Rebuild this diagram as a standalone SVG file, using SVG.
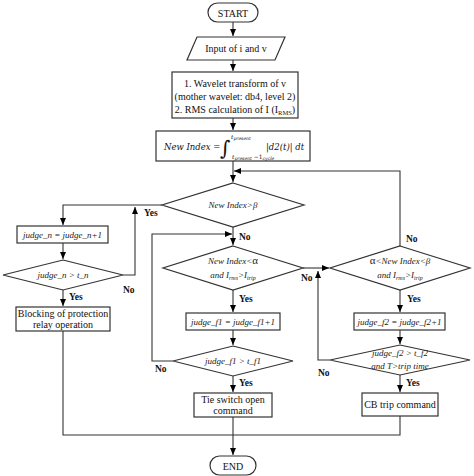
<svg xmlns="http://www.w3.org/2000/svg" width="474" height="476" viewBox="0 0 474 476">
<defs>
<marker id="ah" markerWidth="8" markerHeight="8" refX="7" refY="4" orient="auto" markerUnits="userSpaceOnUse">
<path d="M0,1 L7,4 L0,7 Z" fill="#000"/>
</marker>
<style>
.s{fill:#fff;stroke:#333;stroke-width:1.2}
.c{fill:none;stroke:#333;stroke-width:1.1}
.t{font-family:"Liberation Serif",serif;font-size:10px;fill:#111;text-anchor:middle}
.i{font-family:"Liberation Serif",serif;font-size:9px;font-style:italic;fill:#222;text-anchor:middle}
.l{font-family:"Liberation Serif",serif;font-size:9.5px;font-weight:bold;fill:#111}
.m{font-family:"DejaVu Serif","Liberation Serif",serif;font-style:italic;fill:#111}
</style>
</defs>
<rect width="474" height="476" fill="#fff"/>
<g id="connectors">
<path class="c" d="M233,22 V36" marker-end="url(#ah)"/>
<path class="c" d="M233,60 V71" marker-end="url(#ah)"/>
<path class="c" d="M233,118 V130" marker-end="url(#ah)"/>
<path class="c" d="M233,161 V182" marker-end="url(#ah)"/>
<path class="c" d="M400,246 V171 H234" marker-end="url(#ah)"/>
<path class="c" d="M162,205 H63 V225" marker-end="url(#ah)"/>
<path class="c" d="M233,227 V245" marker-end="url(#ah)"/>
<path class="c" d="M63,243 V259" marker-end="url(#ah)"/>
<path class="c" d="M123,275 H135 V207" marker-end="url(#ah)"/>
<path class="c" d="M63,290 V306" marker-end="url(#ah)"/>
<path class="c" d="M63,331 V435 H233"/>
<path class="c" d="M303,268 H329" marker-end="url(#ah)"/>
<path class="c" d="M233,290 V312" marker-end="url(#ah)"/>
<path class="c" d="M233,330 V345" marker-end="url(#ah)"/>
<path class="c" d="M173,361 H152 V234 H232" marker-end="url(#ah)"/>
<path class="c" d="M233,376 V392" marker-end="url(#ah)"/>
<path class="c" d="M233,417 V455" marker-end="url(#ah)"/>
<path class="c" d="M400,290 V312" marker-end="url(#ah)"/>
<path class="c" d="M400,330 V344" marker-end="url(#ah)"/>
<path class="c" d="M330,360 H318 V271" marker-end="url(#ah)"/>
<path class="c" d="M400,375 V392" marker-end="url(#ah)"/>
<path class="c" d="M400,416 V435 H233"/>
<text class="l" x="144" y="216">Yes</text>
<text class="l" x="239" y="240">No</text>
<text class="l" x="406" y="242">No</text>
<text class="l" x="123" y="293">No</text>
<text class="l" x="69" y="300">Yes</text>
<text class="l" x="301" y="281">No</text>
<text class="l" x="239" y="302">Yes</text>
<text class="l" x="407" y="302">Yes</text>
<text class="l" x="155" y="372">No</text>
<text class="l" x="239" y="386">Yes</text>
<text class="l" x="318" y="376">No</text>
<text class="l" x="406" y="386">Yes</text>
</g>
<g id="start">
<rect class="s" x="208" y="3" width="50" height="19" rx="9.5"/>
<text class="t" x="233" y="16.5">START</text>
</g>
<g id="input">
<polygon class="s" points="197,37 285,37 275,60 187,60"/>
<text class="t" x="236" y="52">Input of i and v</text>
</g>
<g id="wavelet">
<rect class="s" x="172" y="72" width="126" height="46"/>
<text class="t" x="235" y="87">1. Wavelet transform of v</text>
<text class="t" x="235" y="100">(mother wavelet: db4, level 2)</text>
<text class="t" x="235" y="113">2. RMS calculation of I (I<tspan font-size="6.5" dy="2">RMS</tspan><tspan dy="-2">)</tspan></text>
</g>
<g id="newindex">
<rect class="s" x="156" y="131" width="154" height="30"/>
<text class="m" x="164" y="149.5" font-size="8.5">New Index =</text>
<text font-family="DejaVu Serif,serif" x="220" y="155" font-size="20" fill="#111">∫</text>
<text class="m" x="231" y="139" font-size="6">t<tspan font-size="4.5" dy="1">present</tspan></text>
<text class="m" x="232" y="159" font-size="6">t<tspan font-size="4.5" dy="1">present</tspan><tspan dy="-1" font-style="normal"> −1</tspan><tspan font-size="4.5" dy="1">cycle</tspan></text>
<text class="m" x="266" y="149.5" font-size="8.5">|d2(t)| dt</text>
</g>
<g id="d1">
<polygon class="s" points="233,183 304,205 233,227 162,205"/>
<text class="i" x="233" y="208">New Index&gt;β</text>
</g>
<g id="judge_n">
<rect class="s" x="17" y="226" width="91" height="17"/>
<text class="i" x="62.5" y="238">judge_n = judge_n+1</text>
</g>
<g id="dn">
<polygon class="s" points="63,260 123,275 63,290 3,275"/>
<text class="i" x="63" y="278">judge_n &gt; t_n</text>
</g>
<g id="blocking">
<rect class="s" x="16" y="307" width="94" height="24"/>
<text class="t" x="63" y="317">Blocking of protection</text>
<text class="t" x="63" y="328">relay operation</text>
</g>
<g id="d2">
<polygon class="s" points="233,246 303,268 233,290 163,268"/>
<text class="i" x="233" y="264">New Index&lt;<tspan font-style="normal" font-size="11">α</tspan></text>
<text class="i" x="233" y="278">and I<tspan font-size="6" dy="1.5">rms</tspan><tspan dy="-1.5">&gt;I</tspan><tspan font-size="6" dy="1.5">trip</tspan></text>
</g>
<g id="d3">
<polygon class="s" points="400,246 470,268 400,290 330,268"/>
<text class="i" x="400" y="264"><tspan font-style="normal" font-size="11">α</tspan>&lt;New Index&lt;β</text>
<text class="i" x="400" y="278">and I<tspan font-size="6" dy="1.5">rms</tspan><tspan dy="-1.5">&gt;I</tspan><tspan font-size="6" dy="1.5">trip</tspan></text>
</g>
<g id="judge_f1">
<rect class="s" x="186" y="313" width="94" height="17"/>
<text class="i" x="233" y="325">judge_f1 = judge_f1+1</text>
</g>
<g id="judge_f2">
<rect class="s" x="354" y="313" width="91" height="17"/>
<text class="i" x="399.5" y="325">judge_f2 = judge_f2+1</text>
</g>
<g id="df1">
<polygon class="s" points="233,346 293,361 233,376 173,361"/>
<text class="i" x="233" y="364">judge_f1 &gt; t_f1</text>
</g>
<g id="df2">
<polygon class="s" points="400,345 470,360 400,375 330,360"/>
<text class="i" x="400" y="356">judge_f2 &gt; t_f2</text>
<text class="i" x="400" y="369">and T&gt;trip time</text>
</g>
<g id="tie">
<rect class="s" x="194" y="393" width="78" height="24"/>
<text class="t" x="233" y="403">Tie switch open</text>
<text class="t" x="233" y="414">command</text>
</g>
<g id="cb">
<rect class="s" x="362" y="393" width="76" height="23"/>
<text class="t" x="400" y="408">CB trip command</text>
</g>
<g id="end">
<rect class="s" x="210" y="456" width="46" height="19" rx="9.5"/>
<text class="t" x="233" y="469.5">END</text>
</g>
</svg>
